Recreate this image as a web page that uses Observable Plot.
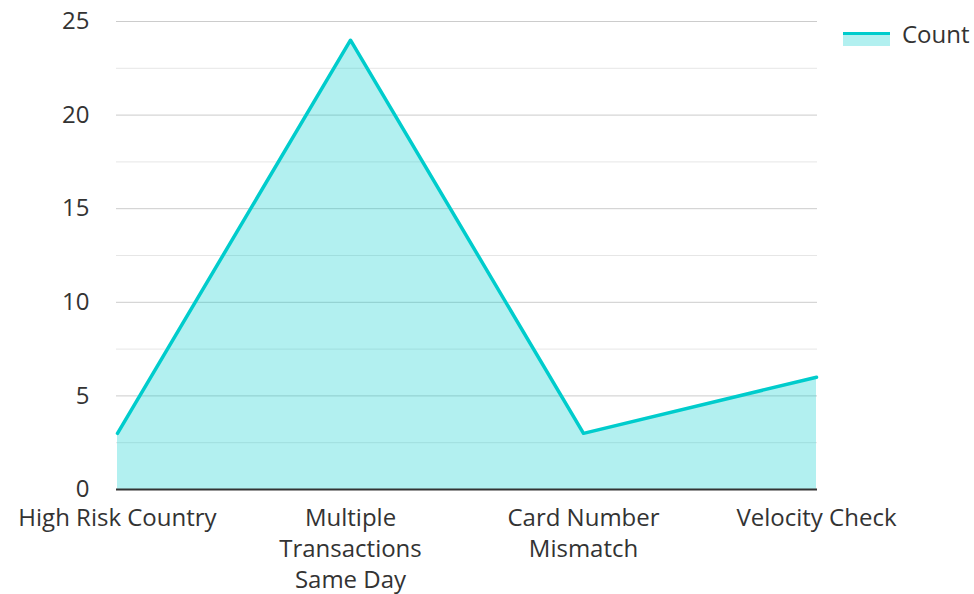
<!DOCTYPE html>
<html>
<head>
<meta charset="utf-8">
<script src="https://cdn.jsdelivr.net/npm/d3@7"></script>
<script src="https://cdn.jsdelivr.net/npm/@observablehq/plot@0.6"></script>
<style>
  html, body { margin: 0; padding: 0; background: #fff; }
  #wrap { position: relative; width: 974px; height: 594px; font-family: "Open Sans", sans-serif; }
  #legend { position: absolute; left: 843px; top: 17px; display: flex; align-items: center; font-size: 24px; color: #333; }
  #legend .sw { width: 47px; height: 14px; background: rgba(0,204,204,0.3); border-top: 3px solid #00cccc; box-sizing: border-box; margin-right: 12px; margin-top: 10px; }
</style>
</head>
<body>
<div id="wrap"><div id="legend"><div class="sw"></div><span>Count</span></div></div>
<script>
const categories = ["High Risk Country", "Multiple Transactions Same Day", "Card Number Mismatch", "Velocity Check"];
const tickLabels = ["High Risk Country", "Multiple\nTransactions\nSame Day", "Card Number\nMismatch", "Velocity Check"];
const counts = [3, 24, 3, 6];
const majorTicks = [0, 5, 10, 15, 20, 25];
const minorTicks = [2.5, 7.5, 12.5, 17.5, 22.5];

const data = categories.map((c, i) => ({category: c, count: counts[i]}));
const labelOf = new Map(categories.map((c, i) => [c, tickLabels[i]]));

const chart = Plot.plot({
  width: 974,
  height: 594,
  marginLeft: 116,
  marginRight: 157,
  marginTop: 21,
  marginBottom: 105,
  style: {fontFamily: "Open Sans, sans-serif", fontSize: "24px", color: "#333", background: "transparent", overflow: "visible"},
  x: {type: "point", domain: categories, padding: 0, label: null},
  y: {domain: [0, 25], label: null},
  marks: [
    Plot.ruleY(minorTicks, {stroke: "#e6e6e6", strokeWidth: 1}),
    Plot.ruleY(majorTicks.filter(d => d > 0), {stroke: "#cccccc", strokeWidth: 1}),
    Plot.areaY(data, {x: "category", y: "count", fill: "#00cccc", fillOpacity: 0.3}),
    Plot.lineY(data, {x: "category", y: "count", stroke: "#00cccc", strokeWidth: 3.5}),
    Plot.ruleY([0], {stroke: "#333", strokeWidth: 2}),
    Plot.axisY({ticks: majorTicks, tickSize: 0, tickPadding: 27, fontSize: 24, fill: "#333"}),
    Plot.axisX({tickSize: 0, tickPadding: 14, fontSize: 24, fill: "#333", lineHeight: 1.3, tickFormat: d => labelOf.get(d)})
  ]
});
document.getElementById("wrap").prepend(chart);
chart.style.position = "absolute";
chart.style.left = "0";
chart.style.top = "0";
</script>
</body>
</html>
